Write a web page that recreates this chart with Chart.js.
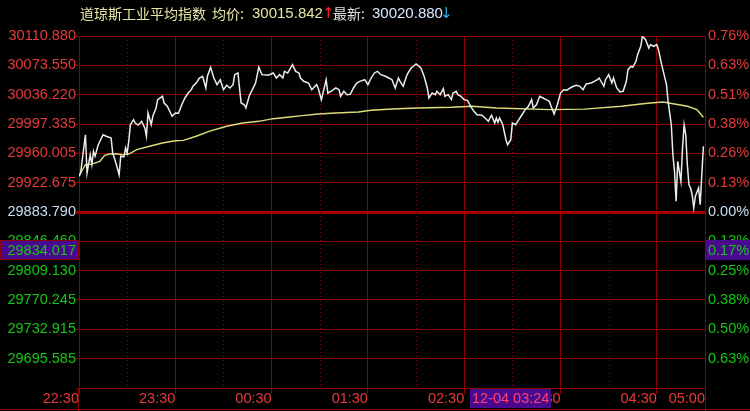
<!DOCTYPE html>
<html><head><meta charset="utf-8">
<script src="https://cdn.jsdelivr.net/npm/chart.js@4/dist/chart.umd.min.js"></script>
<style>html,body{margin:0;padding:0;background:#000;overflow:hidden}</style>
</head><body>
<canvas id="c" width="750" height="411"></canvas>
<script>
// ---------- data ----------
const titleName = '道琼斯工业平均指数';
const prevClose = 29883.790;
const topPrice = 30110.880;
const avgAtCursor = 30015.842;
const lastAtCursor = 30020.880;
const cursorMinute = 294;
const cursorTimeLabel = '12-04 03:24';
const cursorPrice = 29834.017;
const cursorPct = '0.17%';

// minutes since 22:30
const minutes = [0,1,4,5,7,8,9,10,12,15,17,20,21,23,25,26,28,29,30,31,32,34,35,37,39,41,42,43,45,46,48,49,52,53,55,58,60,62,64,66,68,70,71,73,75,77,79,80,82,84,86,88,90,92,94,96,97,99,101,103,104,106,108,110,112,114,118,121,123,125,127,128,130,133,135,137,138,140,143,145,148,149,151,152,154,155,157,160,162,163,165,167,169,171,173,175,178,180,182,184,186,188,191,193,195,197,199,200,202,204,205,207,210,213,215,217,218,220,222,223,225,227,228,230,232,233,235,236,238,240,242,244,246,248,251,253,255,257,259,260,261,262,263,264,266,267,269,270,272,274,276,278,280,282,283,285,287,289,291,293,294,296,298,300,302,304,306,308,310,312,314,316,319,321,323,324,327,328,330,332,333,335,337,339,341,342,344,345,347,348,350,351,353,355,356,358,360,361,363,366,367,369,370,371,372,373,374,375,376,377,378,379,380,381,382,383,384,386,387,388,389];
const prices = [29930.0,29934.1,29983.5,29934.1,29957.7,29944.8,29962.1,29955.7,29970.6,29983.5,29981.5,29979.3,29959.9,29947.0,29931.9,29955.7,29954.9,29966.4,29959.9,29975.0,29996.4,30002.9,29998.6,29995.9,30000.8,29992.2,29981.5,30011.5,29996.4,30007.3,30018.0,30028.7,30033.1,30024.4,30020.2,30007.3,30011.5,30011.2,30022.2,30030.9,30037.3,30041.6,30046.0,30050.2,30056.7,30058.9,30043.8,30058.9,30070.5,30056.7,30048.1,30054.5,30041.6,30047.3,30043.8,30048.1,30061.0,30063.2,30024.4,30022.2,30018.0,30033.1,30041.6,30050.2,30070.5,30061.0,30060.2,30063.2,30056.7,30061.0,30056.7,30065.3,30063.0,30073.9,30065.3,30063.2,30056.7,30052.4,30050.2,30041.6,30048.1,30043.8,30028.7,30037.3,30054.5,30037.3,30039.5,30043.8,30041.6,30033.1,30039.5,30035.2,30035.6,30043.8,30050.2,30052.4,30054.5,30048.1,30056.7,30063.2,30065.3,30061.0,30058.9,30056.7,30054.5,30043.8,30056.7,30052.4,30046.0,30058.9,30063.2,30069.6,30074.8,30069.6,30058.9,30043.8,30030.9,30037.3,30035.2,30039.5,30035.2,30042.9,30033.1,30035.2,30028.7,30037.3,30039.5,30035.2,30033.1,30028.7,30027.9,30020.2,30013.7,30009.3,30008.6,30005.1,30000.8,30008.6,29998.6,30005.1,29999.5,30005.1,30000.8,29996.4,29977.1,29970.6,29977.1,29998.6,29996.4,30002.9,30009.3,30015.8,30020.2,30028.7,30018.0,30022.2,30033.1,30030.9,30028.7,30026.6,30020.88,30010.2,30022.2,30037.3,30041.6,30040.9,30043.8,30046.0,30047.3,30046.0,30041.6,30049.0,30050.2,30052.4,30054.5,30056.7,30046.0,30054.5,30061.0,30050.2,30056.7,30043.8,30038.6,30039.5,30052.4,30067.4,30071.8,30070.5,30078.2,30086.8,30097.6,30110.5,30106.1,30095.4,30099.7,30097.6,30099.7,30093.2,30073.9,30048.1,30026.6,29996.4,29957.7,29936.3,29897.6,29949.2,29936.3,29923.4,29966.4,29996.4,29983.5,29944.8,29919.0,29914.8,29906.1,29889.0,29904.1,29914.8,29893.2,29931.9,29968.6];

const avgMinutes = [0,1,4,8,13,16,19,23,27,31,36,44,52,60,65,73,81,92,102,112,121,130,139,149,160,174,182,195,211,232,245,260,294,315,338,350,356,364,371,379,385,389];
const avgPrices = [29930.0,29934.1,29944.8,29945.5,29949.2,29957.0,29958.6,29958.9,29957.7,29958.6,29964.2,29968.6,29972.8,29975.8,29976.2,29981.5,29987.9,29994.4,29998.6,30000.8,30004.2,30006.0,30008.1,30010.2,30011.5,30012.8,30015.0,30016.7,30018.0,30018.9,30020.2,30018.0,30015.842,30016.5,30020.2,30023.1,30024.4,30025.7,30023.1,30020.2,30015.8,30006.0];

// axis labels, top to bottom
const priceLabels = ['30110.880','30073.550','30036.220','29997.335','29960.005','29922.675','29883.790','29846.460','29809.130','29770.245','29732.915','29695.585',''];
const pctLabels = ['0.76%','0.63%','0.51%','0.38%','0.26%','0.13%','0.00%','0.13%','0.25%','0.38%','0.50%','0.63%',''];
const timeTickMinutes = [0,60,120,180,240,300,360,390];
const timeLabels = ['22:30','23:30','00:30','01:30','02:30','03:30','04:30','05:00'];
const halfHourMinutes = [30,90,150,210,270,330];

// ---------- styles ----------
const GRID = '#900000';
const RED = '#e83a3a';
const GREEN = '#14c814';
const ZERO_TXT = '#c8dcf0';
const FONT = "'Liberation Sans', Arial, 'DejaVu Sans', sans-serif";
const CJK = "'Noto Sans CJK SC', 'Liberation Sans', sans-serif";
const ARROW = "'DejaVu Sans', sans-serif";
const FS = 14.5;

const step = (topPrice - prevClose) / 6;
const yMin = prevClose - 6 * step;
const yMax = topPrice;
const tickVals = [];
for (let k = -6; k <= 6; k++) tickVals.push(prevClose + k * step);
const rowOf = (i) => 12 - i; // ascending tick index -> label row
const labelColor = (row) => row < 6 ? RED : (row === 6 ? ZERO_TXT : GREEN);

const overlay = {
  id: 'overlay',
  beforeDatasetsDraw(chart) {
    const {ctx, chartArea: a, scales: {x}} = chart;
    ctx.save();
    ctx.strokeStyle = GRID; ctx.lineWidth = 1; ctx.setLineDash([1, 3]);
    halfHourMinutes.forEach(m => {
      const px = Math.round(x.getPixelForValue(m)) + 0.5;
      ctx.beginPath(); ctx.moveTo(px, a.top); ctx.lineTo(px, a.bottom); ctx.stroke();
    });
    ctx.restore();
  },
  afterDraw(chart) {
    const {ctx, chartArea: a, scales: {x, y}} = chart;
    const W = chart.width, H = chart.height;
    ctx.save();
    // frame below plot
    ctx.strokeStyle = GRID; ctx.lineWidth = 1;
    ctx.beginPath();
    ctx.moveTo(0, H - 1.5); ctx.lineTo(W, H - 1.5);
    ctx.moveTo(a.left - 0.5, a.bottom); ctx.lineTo(a.left - 0.5, H);
    ctx.moveTo(a.right + 0.5, a.bottom); ctx.lineTo(a.right + 0.5, H);
    ctx.stroke();

    // cursor price box (left) and pct box (right)
    const cy = Math.round(y.getPixelForValue(cursorPrice)) - 1;
    ctx.fillStyle = '#4a0a90'; ctx.strokeStyle = '#8a0000';
    ctx.fillRect(0, cy - 10, a.left, 20); ctx.strokeRect(0.5, cy - 9.5, a.left - 1, 19);
    ctx.fillRect(a.right + 1, cy - 10, W - a.right - 1, 20);
    ctx.font = FS + 'px ' + FONT; ctx.textBaseline = 'middle';
    ctx.fillStyle = GREEN; ctx.textAlign = 'right';
    ctx.fillText(cursorPrice.toFixed(3), a.left - 3, cy + 1);
    ctx.textAlign = 'left';
    ctx.fillText(cursorPct, a.right + 3, cy + 1);

    // cursor time box (bottom)
    const cx = Math.round(x.getPixelForValue(cursorMinute));
    ctx.fillStyle = '#4a0a90';
    ctx.fillRect(cx - 81, a.bottom + 1, 81, 19);
    ctx.fillStyle = '#ff4070'; ctx.textAlign = 'left';
    ctx.fillText(cursorTimeLabel, cx - 79, a.bottom + 11);

    // title
    const ty = 14;
    const segs = [
      [titleName, 80, '14px ' + CJK, '#e6e6a8'],
      ['均价:', 212, '14px ' + CJK, '#e6e6a8'],
      [avgAtCursor.toFixed(3), 252, '15px ' + FONT, '#e6e6a8'],
      ['↑', 322, '15px ' + ARROW, '#ff2020'],
      ['最新:', 333, '14px ' + CJK, '#e0e0e0'],
      [lastAtCursor.toFixed(3), 372, '15px ' + FONT, '#d8e8ff'],
      ['↓', 440, '15px ' + ARROW, '#30b0e8']
    ];
    ctx.textAlign = 'left';
    segs.forEach(([t, sx, f, c]) => { ctx.font = f; ctx.fillStyle = c; ctx.fillText(t, sx, ty); });
    ctx.restore();
  }
};

new Chart(document.getElementById('c'), {
  type: 'line',
  data: {
    datasets: [
      { label: 'price', data: minutes.map((m, i) => ({x: m, y: prices[i]})),
        borderColor: '#ececec', borderWidth: 1.5, pointRadius: 0, tension: 0, order: 1 },
      { label: 'avg', data: avgMinutes.map((m, i) => ({x: m, y: avgPrices[i]})),
        borderColor: '#dcdc78', borderWidth: 1.4, pointRadius: 0, tension: 0, order: 2 }
    ]
  },
  options: {
    responsive: false, animation: false, devicePixelRatio: 1,
    layout: { padding: { top: 36, left: 0, right: 0, bottom: 0 } },
    plugins: { legend: { display: false }, tooltip: { enabled: false }, title: { display: false } },
    scales: {
      x: {
        type: 'linear', min: 0, max: 390, position: 'bottom',
        afterBuildTicks: s => { s.ticks = timeTickMinutes.map(v => ({value: v})); },
        afterFit: s => { s.height = 23; },
        grid: { color: GRID, lineWidth: 1, tickLength: 6, tickColor: GRID },
        border: { color: GRID, width: 1 },
        ticks: { color: RED, font: { size: FS, family: FONT }, align: 'end', maxRotation: 0, autoSkip: false, padding: -4,
          callback: (v, i) => timeLabels[i] }
      },
      y: {
        position: 'left', min: yMin, max: yMax,
        afterBuildTicks: s => { s.ticks = tickVals.map(v => ({value: v})); },
        afterFit: s => { s.width = 79; },
        grid: {
          color: c => (c.index === 6 ? '#a80000' : GRID),
          lineWidth: c => (c.index === 6 ? 3 : 1),
          tickLength: 3, tickColor: GRID
        },
        border: { color: GRID, width: 1 },
        ticks: { font: { size: FS, family: FONT }, padding: 0, autoSkip: false,
          color: c => labelColor(rowOf(c.index)),
          callback: (v, i) => priceLabels[rowOf(i)] }
      },
      y2: {
        position: 'right', min: yMin, max: yMax,
        afterBuildTicks: s => { s.ticks = tickVals.map(v => ({value: v})); },
        afterFit: s => { s.width = 45; },
        grid: { drawOnChartArea: false, drawTicks: false },
        border: { color: GRID, width: 1 },
        ticks: { font: { size: FS, family: FONT }, padding: 3, autoSkip: false,
          color: c => labelColor(rowOf(c.index)),
          callback: (v, i) => pctLabels[rowOf(i)] }
      }
    }
  },
  plugins: [overlay]
});
</script>
</body></html>
